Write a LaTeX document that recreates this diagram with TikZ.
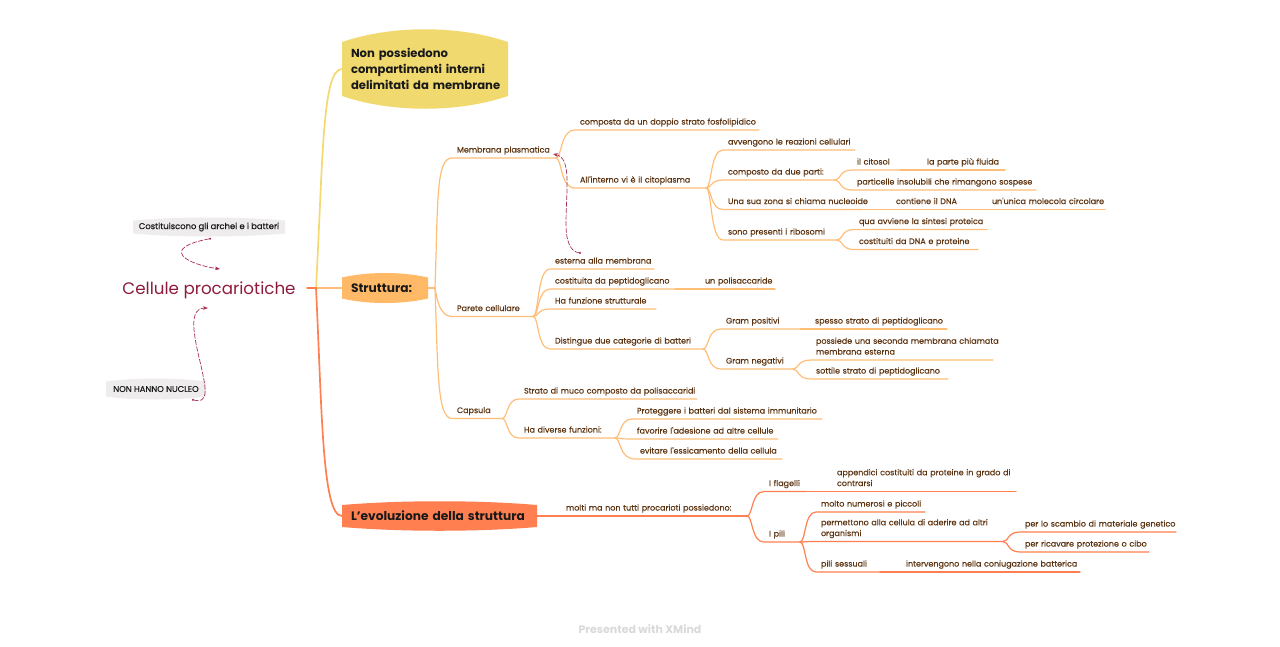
\documentclass[tikz,border=0pt]{standalone}
\usepackage{fontspec}
\setmainfont{Poppins}
\newfontfamily\topicfont{Poppins}[FakeBold=0.35]
\usetikzlibrary{calc,arrows.meta,backgrounds}
\definecolor{topicbrown}{HTML}{5C3310}
\definecolor{rootred}{HTML}{8E1B3C}
\definecolor{relred}{HTML}{A83250}
\definecolor{lineyellow}{HTML}{F5D871}
\definecolor{lineorange}{HTML}{FFBE78}
\definecolor{linecoral}{HTML}{FF7F50}
\definecolor{boxyellow}{HTML}{F0D96E}
\definecolor{boxorange}{HTML}{FFB967}
\definecolor{boxcoral}{HTML}{FF7F50}
\definecolor{notegrey}{HTML}{EEECEC}
\tikzset{topic/.style={font=\topicfont\fontsize{8}{10.8}\selectfont,text=topicbrown,anchor=south west,inner xsep=0pt,inner ysep=3.3pt,outer sep=0pt,align=left,execute at end node=\vphantom{g}},
mainbox/.style={font=\bfseries\fontsize{12.2}{16}\selectfont,text=black!90,anchor=west,inner xsep=9pt,inner ysep=0pt,outer sep=0pt,align=left},
notebox/.style={font=\topicfont\fontsize{8.4}{10}\selectfont,text=black!90,inner sep=0pt,outer sep=0pt,align=center},
branch/.style={line width=1.2pt,line cap=round},
spine/.style={line width=1.7pt,line cap=round},
relation/.style={draw=relred,line width=0.7pt,dash pattern=on 5pt off 1.5pt,{Circle[length=2pt]}-{Stealth[length=5pt]}}}
% curved connector into a topic, with the underline of that topic
\newcommand{\twig}[2]{\draw[branch] (#1.south east) .. controls ($(#1.south east)+(6,0)$) and ($(#1.south east |- #2.south west)+(4,0)$) .. ($(#2.south west)+(-5,0)$) -- (#2.south east);}
% straight connector to the only child
\newcommand{\stem}[2]{\draw[branch] (#1.south east) -- (#2.south east);}
% bulged shape behind a node
\newcommand{\bulge}[3]{\begin{scope}[on background layer]
\fill[#2] (#1.north west) .. controls ($(#1.north west)!0.3!(#1.north east)+(0,-#3)$) and ($(#1.north west)!0.7!(#1.north east)+(0,-#3)$) .. (#1.north east) -- (#1.south east) .. controls ($(#1.south west)!0.7!(#1.south east)+(0,#3)$) and ($(#1.south west)!0.3!(#1.south east)+(0,#3)$) .. (#1.south west) -- cycle;
\end{scope}}
\begin{document}
\begin{tikzpicture}[x=1pt,y=-1pt]
\useasboundingbox (0,0) rectangle (1280,646);

% Root and main topics
\node[font=\fontsize{16.7}{20}\selectfont,text=rootred,minimum width=196pt,inner sep=0pt,outer sep=0pt,text height=12pt,text depth=0pt] (root) at (209,288) {Cellule procariotiche};
\node[mainbox,font=\bfseries\fontsize{11.6}{16}\selectfont,text width=148pt,minimum height=54pt] (nonposs) at (342,69) {Non possiedono\\compartimenti interni\\\mbox{delimitati da membrane}};
\node[mainbox,text width=68pt,minimum height=21pt] (strutt) at (342,288) {Struttura:};
\node[mainbox,text width=177pt,minimum height=22pt] (evol) at (342,516) {L'evoluzione della struttura};
\bulge{nonposs}{boxyellow}{17}
\bulge{strutt}{boxorange}{6}
\bulge{evol}{boxcoral}{5}

% Floating notes
\node[notebox,minimum width=152pt,minimum height=13pt] (archei) at (209,227) {Costituiscono gli archei e i batteri};
\node[notebox,minimum width=100pt,minimum height=15pt] (nucleo) at (156,389) {NON HANNO NUCLEO};
\bulge{archei}{notegrey}{4}
\bulge{nucleo}{notegrey}{4}

% Struttura, first level
\node[topic,text width=99pt] (membrana) at (457,158) {Membrana plasmatica};
\node[topic,text width=76pt] (parete) at (457,316.5) {Parete cellulare};
\node[topic,text width=45pt] (capsula) at (457,418.5) {Capsula};

% Membrana
\node[topic,text width=179pt] (doppio) at (580,130) {composta da un doppio strato fosfolipidico};
\node[topic,text width=126pt] (citopl) at (580,188) {All'interno vi è il citoplasma};
\node[topic,text width=127pt] (reazioni) at (728,150) {avvengono le reazioni cellulari};
\node[topic,text width=107pt] (dueparti) at (728,180) {composto da due parti:};
\node[topic,text width=134pt] (nucleoide) at (728,209.5) {\mbox{Una sua zona si chiama nucleoide}};
\node[topic,text width=109pt] (ribosomi) at (728,240) {sono presenti i ribosomi};
\node[topic,text width=43pt] (citosol) at (857,170) {il citosol};
\node[topic,text width=78pt] (fluida) at (927,170) {la parte più fluida};
\node[topic,text width=179pt] (particelle) at (857,190) {particelle insolubili che rimangono sospese};
\node[topic,text width=94pt] (dna) at (896,209.5) {contiene il DNA};
\node[topic,text width=113pt] (circolare) at (992,209.5) {un'unica molecola circolare};
\node[topic,text width=128pt] (sintesi) at (859,229.5) {qua avviene la sintesi proteica};
\node[topic,text width=119pt] (proteine) at (859,249.5) {costituiti da DNA e proteine};

% Parete
\node[topic,text width=99pt] (esterna) at (555,269) {esterna alla membrana};
\node[topic,text width=120pt] (peptido) at (555,289) {costituita da peptidoglicano};
\node[topic,text width=70pt] (polisacc) at (705,289) {un polisaccaride};
\node[topic,text width=101pt] (funzione) at (555,309) {Ha funzione strutturale};
\node[topic,text width=148pt] (categorie) at (555,349) {Distingue due categorie di batteri};
\node[topic,text width=74pt] (positivi) at (726,329) {Gram positivi};
\node[topic,text width=132pt] (spesso) at (815,329) {spesso strato di peptidoglicano};
\node[topic,text width=67pt] (negativi) at (726,369) {Gram negativi};
\node[topic,text width=177pt] (seconda) at (816,360) {\mbox{possiede una seconda membrana chiamata}\\membrana esterna};
\node[topic,text width=132pt] (sottile) at (816,379) {sottile strato di peptidoglicano};

% Capsula
\node[topic,text width=173pt] (muco) at (524,399) {Strato di muco composto da polisaccaridi};
\node[topic,text width=91pt] (funzioni) at (524,438) {Ha diverse funzioni:};
\node[topic,text width=185pt] (immuni) at (637,419) {Proteggere i batteri dal sistema immunitario};
\node[topic,text width=141pt] (adesione) at (637,439) {favorire l'adesione ad altre cellule};
\node[topic,text width=142pt] (essic) at (640,459) {evitare l'essicamento della cellula};

% Evoluzione
\node[topic,text width=181pt] (molti) at (566,516) {molti ma non tutti procarioti possiedono:};
\node[topic,text width=36pt] (flagelli) at (769,491.5) {I flagelli};
\node[topic,text width=179pt] (appendici) at (837,491.5) {appendici costituiti da proteine in grado di\\contrarsi};
\node[topic,text width=31pt] (pili) at (769,542) {I pili};
\node[topic,text width=104pt] (piccoli) at (821,512) {molto numerosi e piccoli};
\node[topic,text width=182pt] (aderire) at (821,541.5) {permettono alla cellula di aderire ad altri\\organismi};
\node[topic,text width=59pt] (sessuali) at (821,572) {pili sessuali};
\node[topic,text width=174pt] (coniug) at (906,572) {intervengono nella coniugazione batterica};
\node[topic,text width=151pt] (scambio) at (1025,532) {per lo scambio di materiale genetico};
\node[topic,text width=124pt] (cibo) at (1025,552) {per ricavare protezione o cibo};

% Branches
\draw[spine,lineorange] ($(root.east)+(9,0)$) -- (strutt.west);
\draw[spine,lineyellow] ($(root.east)+(9,0)$) .. controls (323,160) and (322,69) .. (nonposs.west);
\draw[spine,linecoral] ($(root.east)+(9,0)$) .. controls (322,410) and (322,516) .. (evol.west);
\draw[spine,linecoral] (root.east) -- ($(root.east)+(9,0)$);

\begin{scope}[color=lineorange]
\draw[branch] (strutt.east) -- ($(strutt.east)+(7,0)$);
\draw[branch] ($(strutt.east)+(7,0)$) .. controls (438,200) and (436,158) .. ($(membrana.south west)+(-5,0)$) -- (membrana.south east);
\draw[branch] ($(strutt.east)+(7,0)$) .. controls (437,300) and (440,316.5) .. ($(parete.south west)+(-5,0)$) -- (parete.south east);
\draw[branch] ($(strutt.east)+(7,0)$) .. controls (438,370) and (437,418.5) .. ($(capsula.south west)+(-5,0)$) -- (capsula.south east);
\twig{membrana}{doppio} \twig{membrana}{citopl}
\twig{citopl}{reazioni} \twig{citopl}{dueparti} \twig{citopl}{nucleoide} \twig{citopl}{ribosomi}
\twig{dueparti}{citosol} \twig{dueparti}{particelle} \stem{citosol}{fluida}
\stem{nucleoide}{dna} \stem{dna}{circolare}
\twig{ribosomi}{sintesi} \twig{ribosomi}{proteine}
\twig{parete}{esterna} \twig{parete}{peptido} \twig{parete}{funzione} \twig{parete}{categorie}
\stem{peptido}{polisacc}
\twig{categorie}{positivi} \twig{categorie}{negativi} \stem{positivi}{spesso}
\twig{negativi}{seconda} \twig{negativi}{sottile}
\twig{capsula}{muco} \twig{capsula}{funzioni}
\twig{funzioni}{immuni} \twig{funzioni}{adesione} \twig{funzioni}{essic}
\end{scope}

\begin{scope}[color=linecoral]
\draw[branch] (evol.east) -- (molti.south east);
\twig{molti}{flagelli} \twig{molti}{pili} \stem{flagelli}{appendici}
\twig{pili}{piccoli} \twig{pili}{aderire} \twig{pili}{sessuali} \stem{sessuali}{coniug}
\twig{aderire}{scambio} \twig{aderire}{cibo}
\end{scope}

% Relations
\draw[relation] ($(archei.south)+(2,5)$) .. controls (160,248) and (185,264) .. ($(root.north)+(11,-13)$);
\draw[relation] ($(nucleo.south east)+(-14,3)$) .. controls (208,404) and (206,390) .. (203,375) .. controls (198,350) and (184,308) .. ($(root.south)+(-1,14)$);
\draw[relation] ($(esterna.south west)+(26,-16)$) .. controls (570,252) and (566,240) .. (566,225) .. controls (566,190) and (572,158) .. ($(membrana.south east)+(-3,-4)$);

% Footer
\node[font=\bfseries\fontsize{11}{13}\selectfont,text=black!15,inner sep=0pt] (xmind) at (640,629) {Presented with XMind};
\end{tikzpicture}
\end{document}
